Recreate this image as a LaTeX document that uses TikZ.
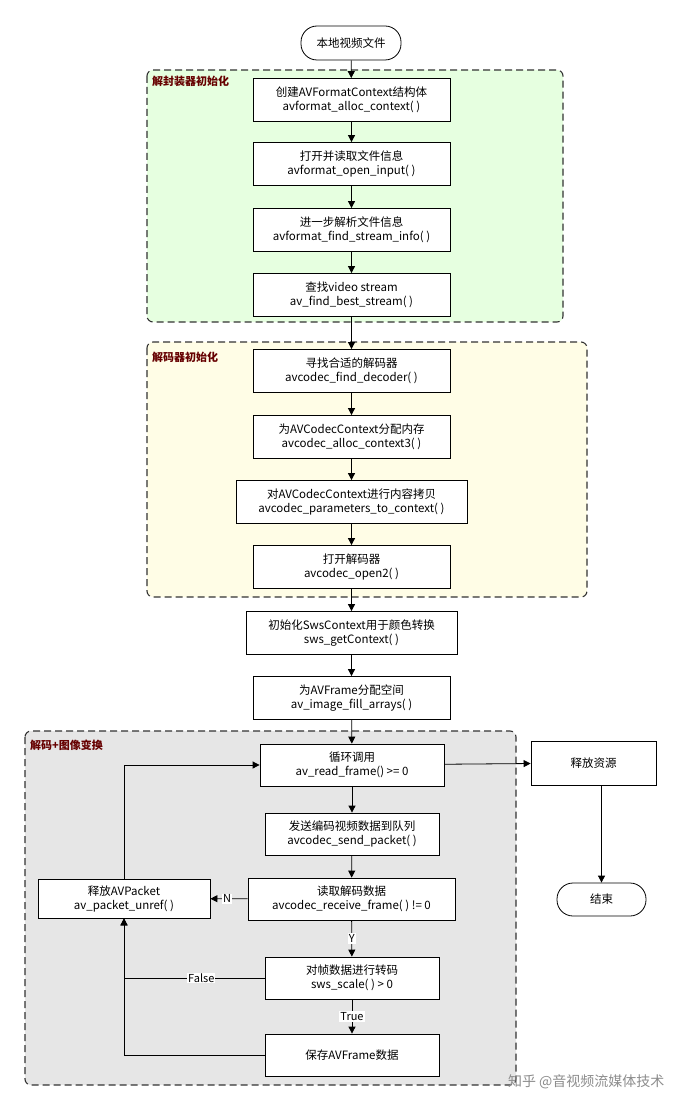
\documentclass[tikz,border=0pt]{standalone}
\usepackage{fontspec}
\setmainfont{Noto Sans CJK SC}
\usetikzlibrary{arrows.meta}
\definecolor{grp}{HTML}{660000}
\begin{document}
\begin{tikzpicture}[x=1pt,y=-1pt,
  every node/.style={font=\fontsize{11.5}{14}\selectfont, align=center},
  box/.style={draw,thick,fill=white,minimum height=43pt,inner sep=1pt},
  term/.style={draw,thick,fill=white,rounded corners=16pt},
  group/.style={draw=black!80,line width=1.1pt,dash pattern=on 7pt off 4pt,rounded corners=6pt},
  glabel/.style={anchor=north west,font=\bfseries\fontsize{11}{13}\selectfont,text=grp,inner sep=0pt},
  arr/.style={thick,-{Triangle[length=7pt,width=7pt]}},
  lbl/.style={fill=white,inner sep=1pt,font=\fontsize{11}{13}\selectfont}]
\useasboundingbox (0,0) rectangle (682,1110);
% groups
\draw[group,fill={rgb,255:red,230;green,255;blue,224}] (147,70) rectangle (563,322);
\node[glabel] (g1) at (152,76) {解封装器初始化};
\draw[group,fill={rgb,255:red,255;green,253;blue,230}] (147,342) rectangle (587,597);
\node[glabel] (g2) at (152,352) {解码器初始化};
\draw[group,fill={rgb,255:red,230;green,230;blue,230}] (25,731) rectangle (516,1085);
\node[glabel] (g3) at (30,740) {解码+图像变换};
% nodes
\node[term,minimum width=100pt,minimum height=34pt] (start) at (351,43) {本地视频文件};
\node[box,minimum width=197pt] (a1) at (351.5,100) {创建AVFormatContext结构体\\avformat\_alloc\_context( )};
\node[box,minimum width=197pt] (a2) at (351.5,164) {打开并读取文件信息\\avformat\_open\_input( )};
\node[box,minimum width=197pt] (a3) at (351.5,230) {进一步解析文件信息\\avformat\_find\_stream\_info( )};
\node[box,minimum width=197pt] (a4) at (351.5,295) {查找video stream\\av\_find\_best\_stream( )};
\node[box,minimum width=197pt] (b1) at (351.5,371) {寻找合适的解码器\\avcodec\_find\_decoder( )};
\node[box,minimum width=197pt] (b2) at (351.5,437) {为AVCodecContext分配内存\\avcodec\_alloc\_context3( )};
\node[box,minimum width=231pt] (b3) at (351.5,502) {对AVCodecContext进行内容拷贝\\avcodec\_parameters\_to\_context( )};
\node[box,minimum width=197pt] (b4) at (351.5,567) {打开解码器\\avcodec\_open2( )};
\node[box,minimum width=211pt] (c1) at (351.5,633) {初始化SwsContext用于颜色转换\\sws\_getContext( )};
\node[box,minimum width=197pt] (c2) at (351.5,698) {为AVFrame分配空间\\av\_image\_fill\_arrays( )};
\node[box,minimum width=184pt,minimum height=42pt] (d1) at (352,765) {循环调用\\av\_read\_frame() >= 0};
\node[box,minimum width=174pt,minimum height=42pt] (d2) at (352,834) {发送编码视频数据到队列\\avcodec\_send\_packet( )};
\node[box,minimum width=207pt,minimum height=42pt] (d3) at (351.5,899) {读取解码数据\\avcodec\_receive\_frame( ) != 0};
\node[box,minimum width=174pt,minimum height=42pt] (d4) at (352,978) {对帧数据进行转码\\sws\_scale( ) > 0};
\node[box,minimum width=174pt,minimum height=42pt] (d5) at (352,1055) {保存AVFrame数据};
\node[box,minimum width=172pt,minimum height=39pt] (pk) at (124,898.5) {释放AVPacket\\av\_packet\_unref( )};
\node[box,minimum width=125pt,minimum height=44pt] (rel) at (593.5,763) {释放资源};
\node[term,minimum width=89pt,minimum height=33pt] (end) at (601.5,899.5) {结束};
\coordinate (t1) at (124,1055);
\coordinate (t2) at (124,978);
\coordinate (t3) at (124,765);
% arrows
\foreach \p/\q in {start/a1,a1/a2,a2/a3,a3/a4,a4/b1,b1/b2,b2/b3,b3/b4,b4/c1,c1/c2,c2/d1,d1/d2,d2/d3}
  \draw[arr] (\p) -- (\q);
\draw[arr] (d1) -- (rel);
\draw[arr] (rel.south -| end) -- (end);
\draw[arr] (d3) -- node[lbl,pos=0.55]{N} (pk);
\draw[arr] (d3) -- node[lbl]{Y} (d4);
\draw[arr] (d4) -- node[lbl]{True} (d5);
\draw[arr] (d4.west) -- node[lbl,pos=0.45]{False} (t2) -- (pk.south);
\draw[arr] (d5.west) -- (t1) -- (pk.south);
\draw[arr] (pk.north) -- (t3) -- (d1.west);
\node[text=black!45,font=\fontsize{14}{16}\selectfont,anchor=east] (wm) at (668,1082) {知乎 @音视频流媒体技术};
\end{tikzpicture}
\end{document}
